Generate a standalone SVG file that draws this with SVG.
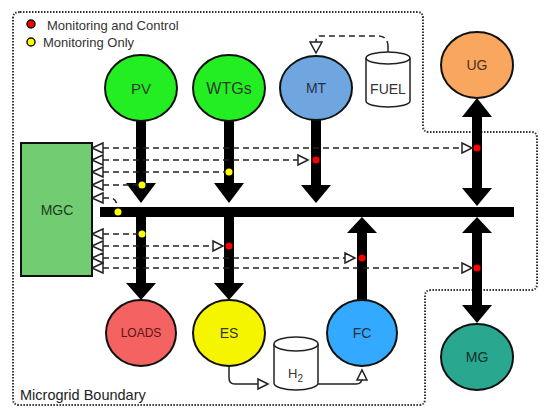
<svg xmlns="http://www.w3.org/2000/svg" width="550" height="418" viewBox="0 0 550 418">
<style>
.lbl{font-family:"Liberation Sans",Arial,sans-serif;text-anchor:middle;dominant-baseline:central}
.node{stroke:#111;stroke-width:2}
.dash{fill:none;stroke:#222;stroke-width:1.5;stroke-dasharray:6 4}
.thin{fill:none;stroke:#222;stroke-width:1.5}
.open{fill:#fff;stroke:#222;stroke-width:1.5}
.thick{stroke:#000;stroke-width:10}
.red{fill:#f00}
.yel{fill:#ff0}
</style>
<rect width="550" height="418" fill="#fff"/>
<g id="boundary">
<path d="M20 12 H417 Q423 12 423 18 V126 Q423 132 429 132 H531 Q537 132 537 138 V284 Q537 290 531 290 H431 Q425 290 425 296 V399 Q425 405 419 405 H19 Q13 405 13 399 V18 Q13 12 20 12 Z" fill="none" stroke="#333" stroke-width="2" stroke-dasharray="1.5 1.5"/>
<text x="20" y="400" font-family="Liberation Sans,Arial,sans-serif" font-size="14.5" fill="#222">Microgrid Boundary</text>
</g>
<g id="legend">
<circle cx="31" cy="24" r="4" fill="#f00" stroke="#111" stroke-width="1.5"/>
<text x="47" y="30" font-family="Liberation Sans,Arial,sans-serif" font-size="13" fill="#333">Monitoring and Control</text>
<circle cx="31" cy="42" r="4" fill="#ff0" stroke="#111" stroke-width="1.5"/>
<text x="43" y="47" font-family="Liberation Sans,Arial,sans-serif" font-size="13" fill="#333">Monitoring Only</text>
</g>
<g id="connectors">
<rect x="100" y="207" width="414" height="10" fill="#000"/>
<line class="thick" x1="141" y1="120" x2="141" y2="185"/>
<polygon points="126,183 156,183 141,203"/>
<line class="thick" x1="141" y1="217" x2="141" y2="285"/>
<polygon points="126,283 156,283 141,300"/>
<line class="thick" x1="229" y1="120" x2="229" y2="185"/>
<polygon points="214,183 244,183 229,203"/>
<line class="thick" x1="229" y1="217" x2="229" y2="285"/>
<polygon points="214,283 244,283 229,300"/>
<line class="thick" x1="316" y1="120" x2="316" y2="187"/>
<polygon points="301,185 331,185 316,203"/>
<line class="thick" x1="362" y1="231" x2="362" y2="301"/>
<polygon points="347,233 377,233 362,217"/>
<line class="thick" x1="477" y1="115" x2="477" y2="190"/>
<polygon points="462,117 492,117 477,98"/>
<polygon points="462,188 492,188 477,206"/>
<line class="thick" x1="477" y1="231" x2="477" y2="307"/>
<polygon points="462,233 492,233 477,217"/>
<polygon points="462,305 492,305 477,323"/>
<path class="dash" d="M103 148 H462"/>
<path class="dash" d="M103 160 H298"/>
<path class="dash" d="M103 172 H229"/>
<path class="dash" d="M103 185 H141"/>
<path class="dash" d="M103 198 H110 Q117 198 118 210"/>
<path class="dash" d="M103 234 H141"/>
<path class="dash" d="M103 246 H213"/>
<path class="dash" d="M103 258 H345"/>
<path class="dash" d="M103 268 H462"/>
<polygon class="open" points="462,143 472,148 462,153"/>
<polygon class="open" points="298,155 308,160 298,165"/>
<polygon class="open" points="213,241 223,246 213,251"/>
<polygon class="open" points="345,253 355,258 345,263"/>
<polygon class="open" points="462,263 472,268 462,273"/>
<polygon class="open" points="92,148 103,143 103,153"/>
<polygon class="open" points="92,160 103,155 103,165"/>
<polygon class="open" points="92,172 103,167 103,177"/>
<polygon class="open" points="92,185 103,180 103,190"/>
<polygon class="open" points="92,198 103,193 103,203"/>
<polygon class="open" points="92,234 103,229 103,239"/>
<polygon class="open" points="92,246 103,241 103,251"/>
<polygon class="open" points="92,258 103,253 103,263"/>
<polygon class="open" points="92,268 103,263 103,273"/>
<circle class="red" cx="477" cy="148" r="3.5"/>
<circle class="red" cx="316" cy="160" r="3.5"/>
<circle class="yel" cx="229" cy="172" r="3.5"/>
<circle class="yel" cx="142" cy="185" r="3.5"/>
<circle class="yel" cx="118" cy="212" r="3.5"/>
<circle class="yel" cx="142" cy="234" r="3.5"/>
<circle class="red" cx="229" cy="246" r="3.5"/>
<circle class="red" cx="362" cy="258" r="3.5"/>
<circle class="red" cx="477" cy="268" r="3.5"/>
<path class="thin" d="M388 52 V47"/>
<path class="dash" d="M388 47 Q388 36 378 36 H320 Q316 36 316 42"/>
<polygon class="open" points="310,42 322,42 316,53"/>
<path class="thin" d="M229 365 V378 Q229 384 235 384 H258"/>
<polygon class="open" points="258,379 268,384 258,389"/>
<path class="thin" d="M318 384 H356 Q362 384 362 378 V370"/>
<polygon class="open" points="357,380 367,380 362,370"/>
</g>
<g id="PV"><ellipse class="node" cx="141" cy="88" rx="36" ry="33" fill="#22ee22"/><text class="lbl" x="141" y="88" font-size="15" fill="#2a3a2a">PV</text></g>
<g id="WTGs"><ellipse class="node" cx="229" cy="88" rx="36" ry="33" fill="#22ee22"/><text class="lbl" x="229" y="88" font-size="16" fill="#2a3a2a">WTGs</text></g>
<g id="MT"><ellipse class="node" cx="316" cy="88" rx="36" ry="32" fill="#6fa6e0"/><text class="lbl" x="316" y="88" font-size="14" fill="#2a2f3d">MT</text></g>
<g id="FUEL">
<path d="M366 58 V101 A22 6 0 0 0 410 101 V58" fill="#fff" stroke="#222" stroke-width="1.5"/>
<ellipse cx="388" cy="58" rx="22" ry="6" fill="#fff" stroke="#222" stroke-width="1.5"/>
<text class="lbl" x="388" y="89" font-size="14" fill="#333">FUEL</text>
</g>
<g id="UG"><ellipse class="node" cx="477" cy="65" rx="36" ry="33" fill="#f9a75e"/><text class="lbl" x="477" y="65" font-size="14" fill="#4a3020">UG</text></g>
<g id="MGC"><rect class="node" x="21" y="143" width="71" height="133" fill="#72cc72"/><text class="lbl" x="57" y="210" font-size="14" fill="#1d3d1d">MGC</text></g>
<g id="LOADS"><ellipse class="node" cx="141" cy="333" rx="35" ry="33" fill="#f56262"/><text class="lbl" x="141" y="333" font-size="12" fill="#5a1515">LOADS</text></g>
<g id="ES"><ellipse class="node" cx="229" cy="333" rx="36" ry="33" fill="#f5f500"/><text class="lbl" x="229" y="333" font-size="14" fill="#333">ES</text></g>
<g id="H2">
<path d="M274 344 V383 A22 7 0 0 0 318 383 V344" fill="#fff" stroke="#222" stroke-width="1.5"/>
<ellipse cx="296" cy="344" rx="22" ry="7" fill="#fff" stroke="#222" stroke-width="1.5"/>
<text x="288" y="378" font-family="Liberation Sans,Arial,sans-serif" font-size="13" fill="#333">H<tspan font-size="10" dy="4">2</tspan></text>
</g>
<g id="FC"><ellipse class="node" cx="362" cy="333" rx="35" ry="33" fill="#33aaff"/><text class="lbl" x="362" y="333" font-size="14" fill="#2a2f3d">FC</text></g>
<g id="MG"><ellipse class="node" cx="477" cy="357" rx="36" ry="33" fill="#2aa88f"/><text class="lbl" x="477" y="357" font-size="14" fill="#10302a">MG</text></g>
</svg>
